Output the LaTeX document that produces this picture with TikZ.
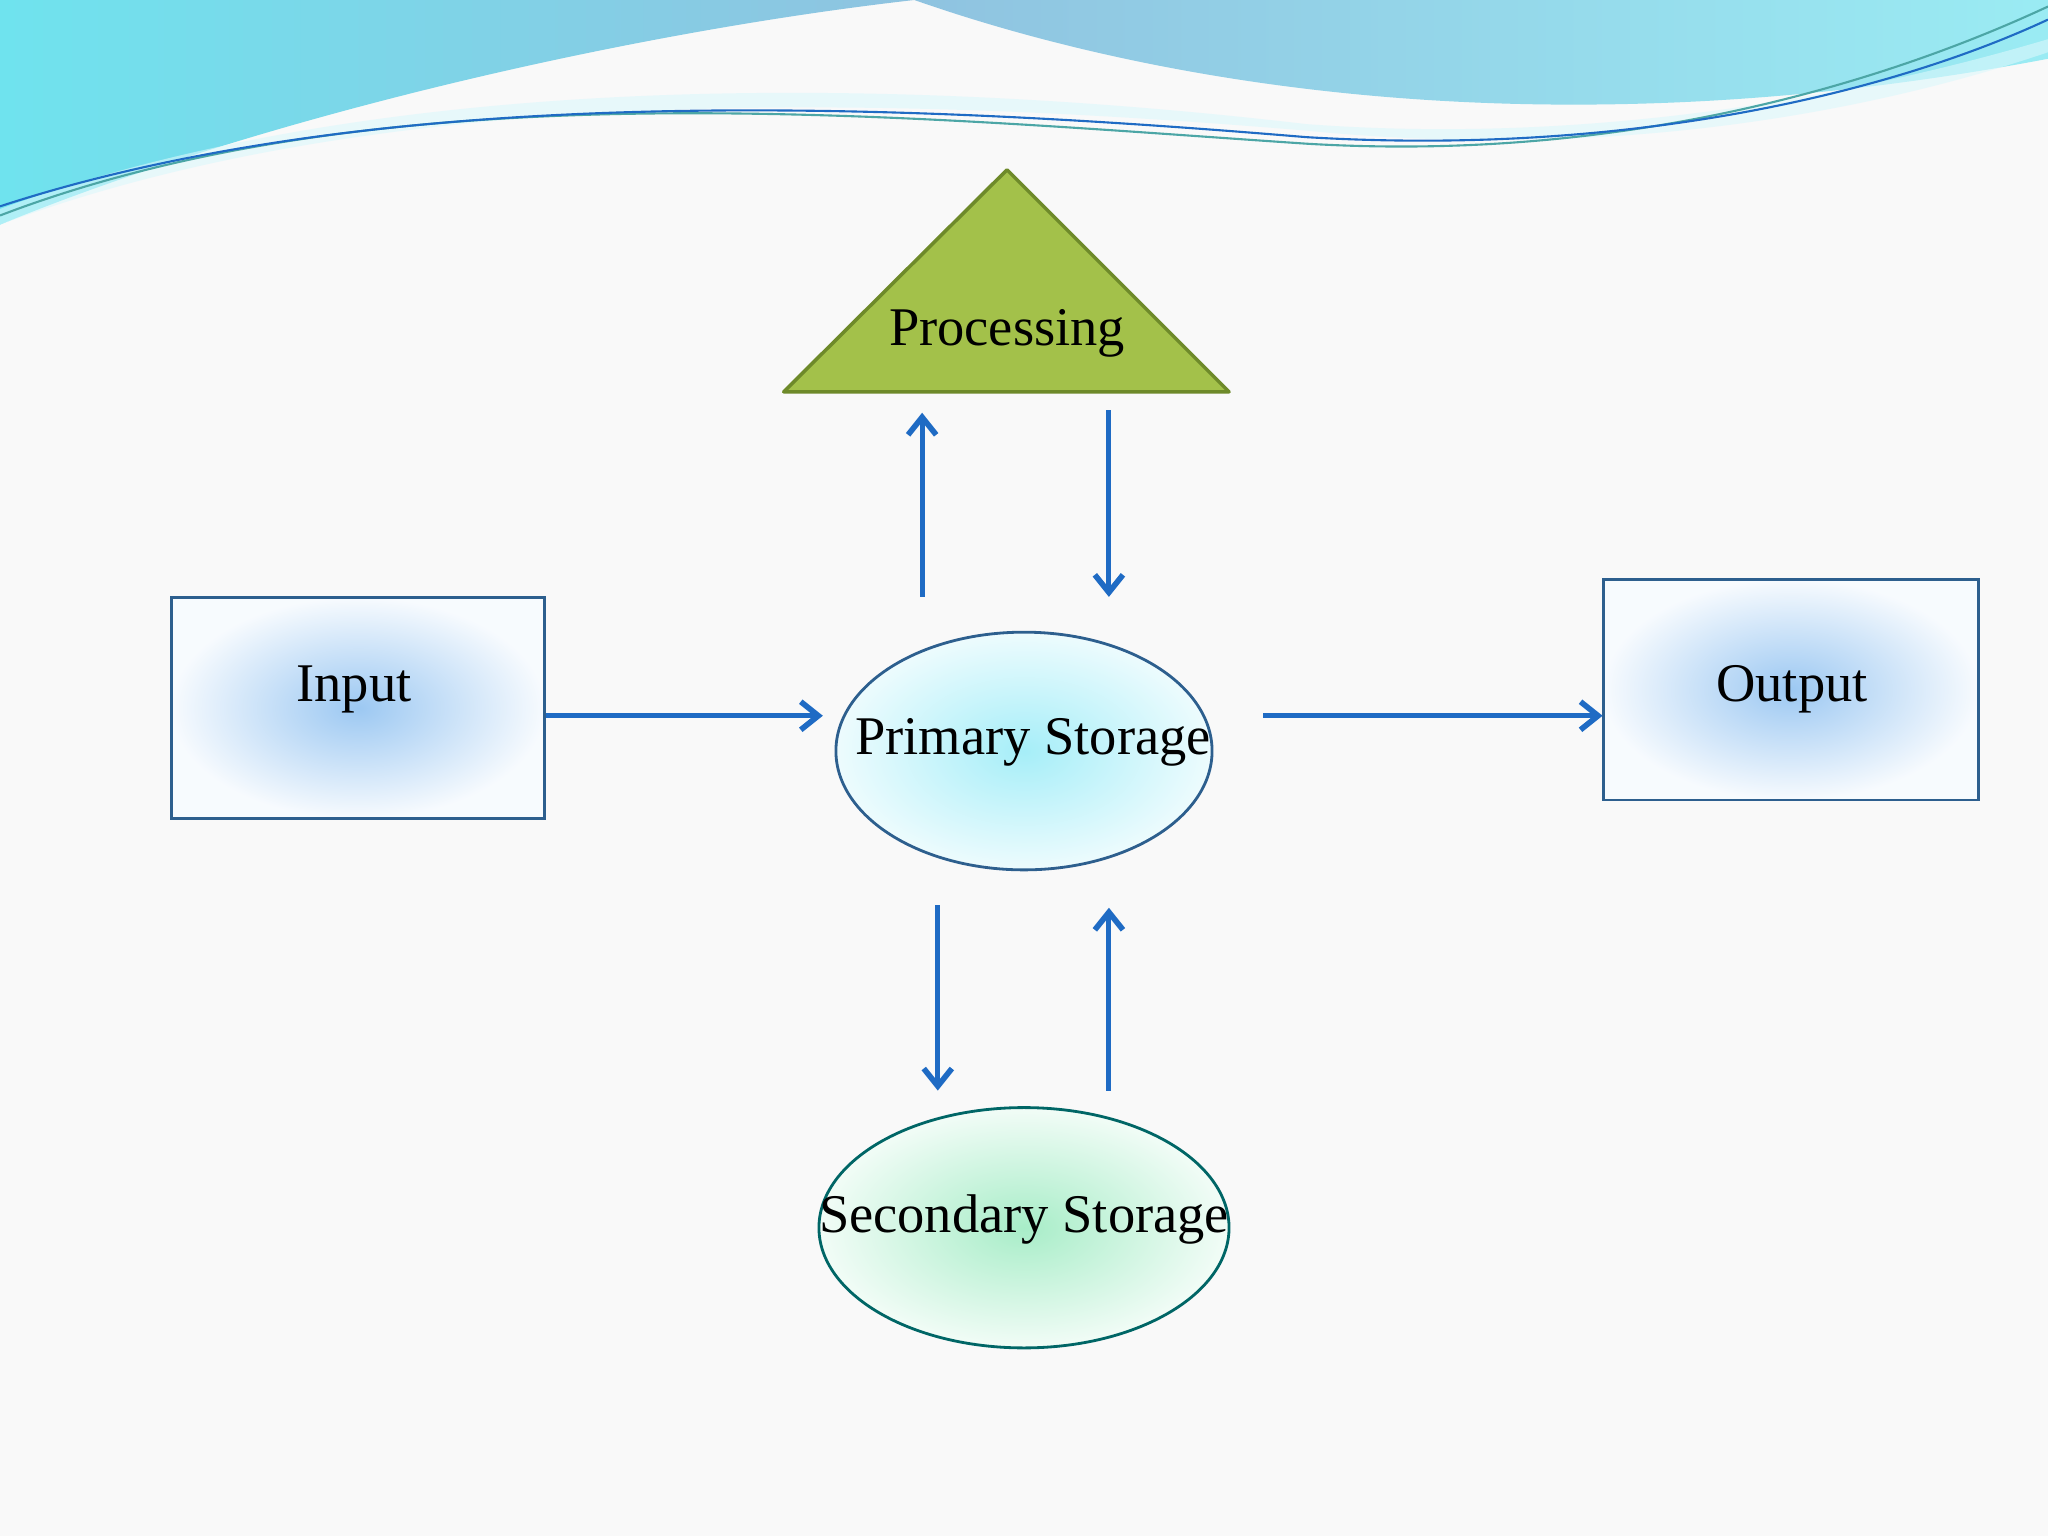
\documentclass[tikz,border=0pt]{standalone}
\usepackage{fontspec}
\setmainfont{Liberation Serif}
\usetikzlibrary{arrows.meta,shapes.geometric}
\definecolor{arrowblue}{HTML}{1F6BC4}
\definecolor{boxedge}{HTML}{2D5F8E}
\definecolor{boxblue}{HTML}{9CC8F2}
\definecolor{cyanfill}{HTML}{A6EEF8}
\definecolor{mintfill}{HTML}{A8EDC8}
\definecolor{olive}{HTML}{A3C14A}
\definecolor{oliveedge}{HTML}{6E8A2A}
\definecolor{wavea}{HTML}{6FE3EE}
\definecolor{waveb}{HTML}{8FC3E0}
\tikzset{
txt/.style={font=\fontsize{15.5}{19}\selectfont},
box/.style={draw=boxedge,line width=.8pt,inner sep=0pt,inner color=boxblue,outer color=white!92!boxblue},
oval/.style={ellipse,draw=#1,line width=.8pt,inner sep=0pt},
flow/.style={draw=arrowblue,line width=1.4pt,-{Straight Barb[length=5pt,width=8pt,line width=1.6pt]}}
}
\begin{document}
\begin{tikzpicture}[x=0.01306cm,y=-0.01306cm]
\fill[gray!5](0,0)rectangle(1568,1176);
\useasboundingbox(0,0)rectangle(1568,1176);
% wave at the top
\shade[left color=wavea,right color=waveb](0,0)--(0,172)..controls(200,90)and(480,25)..(700,0)--cycle;
\shade[left color=waveb,right color=wavea!70](700,0)..controls(900,70)and(1200,115)..(1568,45)--(1568,0)--cycle;
\fill[white!60!cyanfill,opacity=.6](0,172)..controls(300,60)and(700,75)..(1000,100)..controls(1250,125)and(1450,80)..(1568,40)--(1568,30)..controls(1400,80)and(1200,110)..(1000,95)..controls(700,60)and(300,50)..(0,160)--cycle;
\draw[teal!70,line width=.6pt](0,165)..controls(300,50)and(700,90)..(1000,110)..controls(1250,125)and(1450,60)..(1568,5);
\draw[arrowblue,line width=.6pt](0,158)..controls(300,60)and(700,80)..(1000,105)..controls(1250,120)and(1450,70)..(1568,15);
% shapes
\fill[olive,draw=oliveedge,line width=1pt,line join=round](771,130)--(941,300)--(600,300)--cycle;
\node[txt](proc)at(771,255){Processing};
\node[box,minimum width=286*0.01306cm,minimum height=169*0.01306cm](in)at(274,542){};
\node[txt]at(271,528){Input};
\node[box,minimum width=287*0.01306cm,minimum height=169*0.01306cm](out)at(1371,528){};
\node[txt]at(1372,528){Output};
\node[oval=boxedge,minimum width=288*0.01306cm,minimum height=182*0.01306cm,inner color=cyanfill,outer color=white!80!cyanfill](prim)at(784,575){};
\node[txt]at(791,568){Primary Storage};
\node[oval=teal!80!black,minimum width=314*0.01306cm,minimum height=184*0.01306cm,inner color=mintfill,outer color=white!85!mintfill](sec)at(784,940){};
\node[txt]at(784,934){Secondary Storage};
% arrow ends
\coordinate(p1)at(706,457);\coordinate(p2)at(706,316);
\coordinate(p3)at(849,314);\coordinate(p4)at(849,457);
\coordinate(i1)at(418,548);\coordinate(i2)at(630,548);
\coordinate(o1)at(967,548);\coordinate(o2)at(1227,548);
\coordinate(s1)at(718,693);\coordinate(s2)at(718,835);
\coordinate(s3)at(849,835);\coordinate(s4)at(849,695);
\draw[flow](p1)--(p2);
\draw[flow](p3)--(p4);
\draw[flow](i1)--(i2);
\draw[flow](o1)--(o2);
\draw[flow](s1)--(s2);
\draw[flow](s3)--(s4);
\end{tikzpicture}
\end{document}
